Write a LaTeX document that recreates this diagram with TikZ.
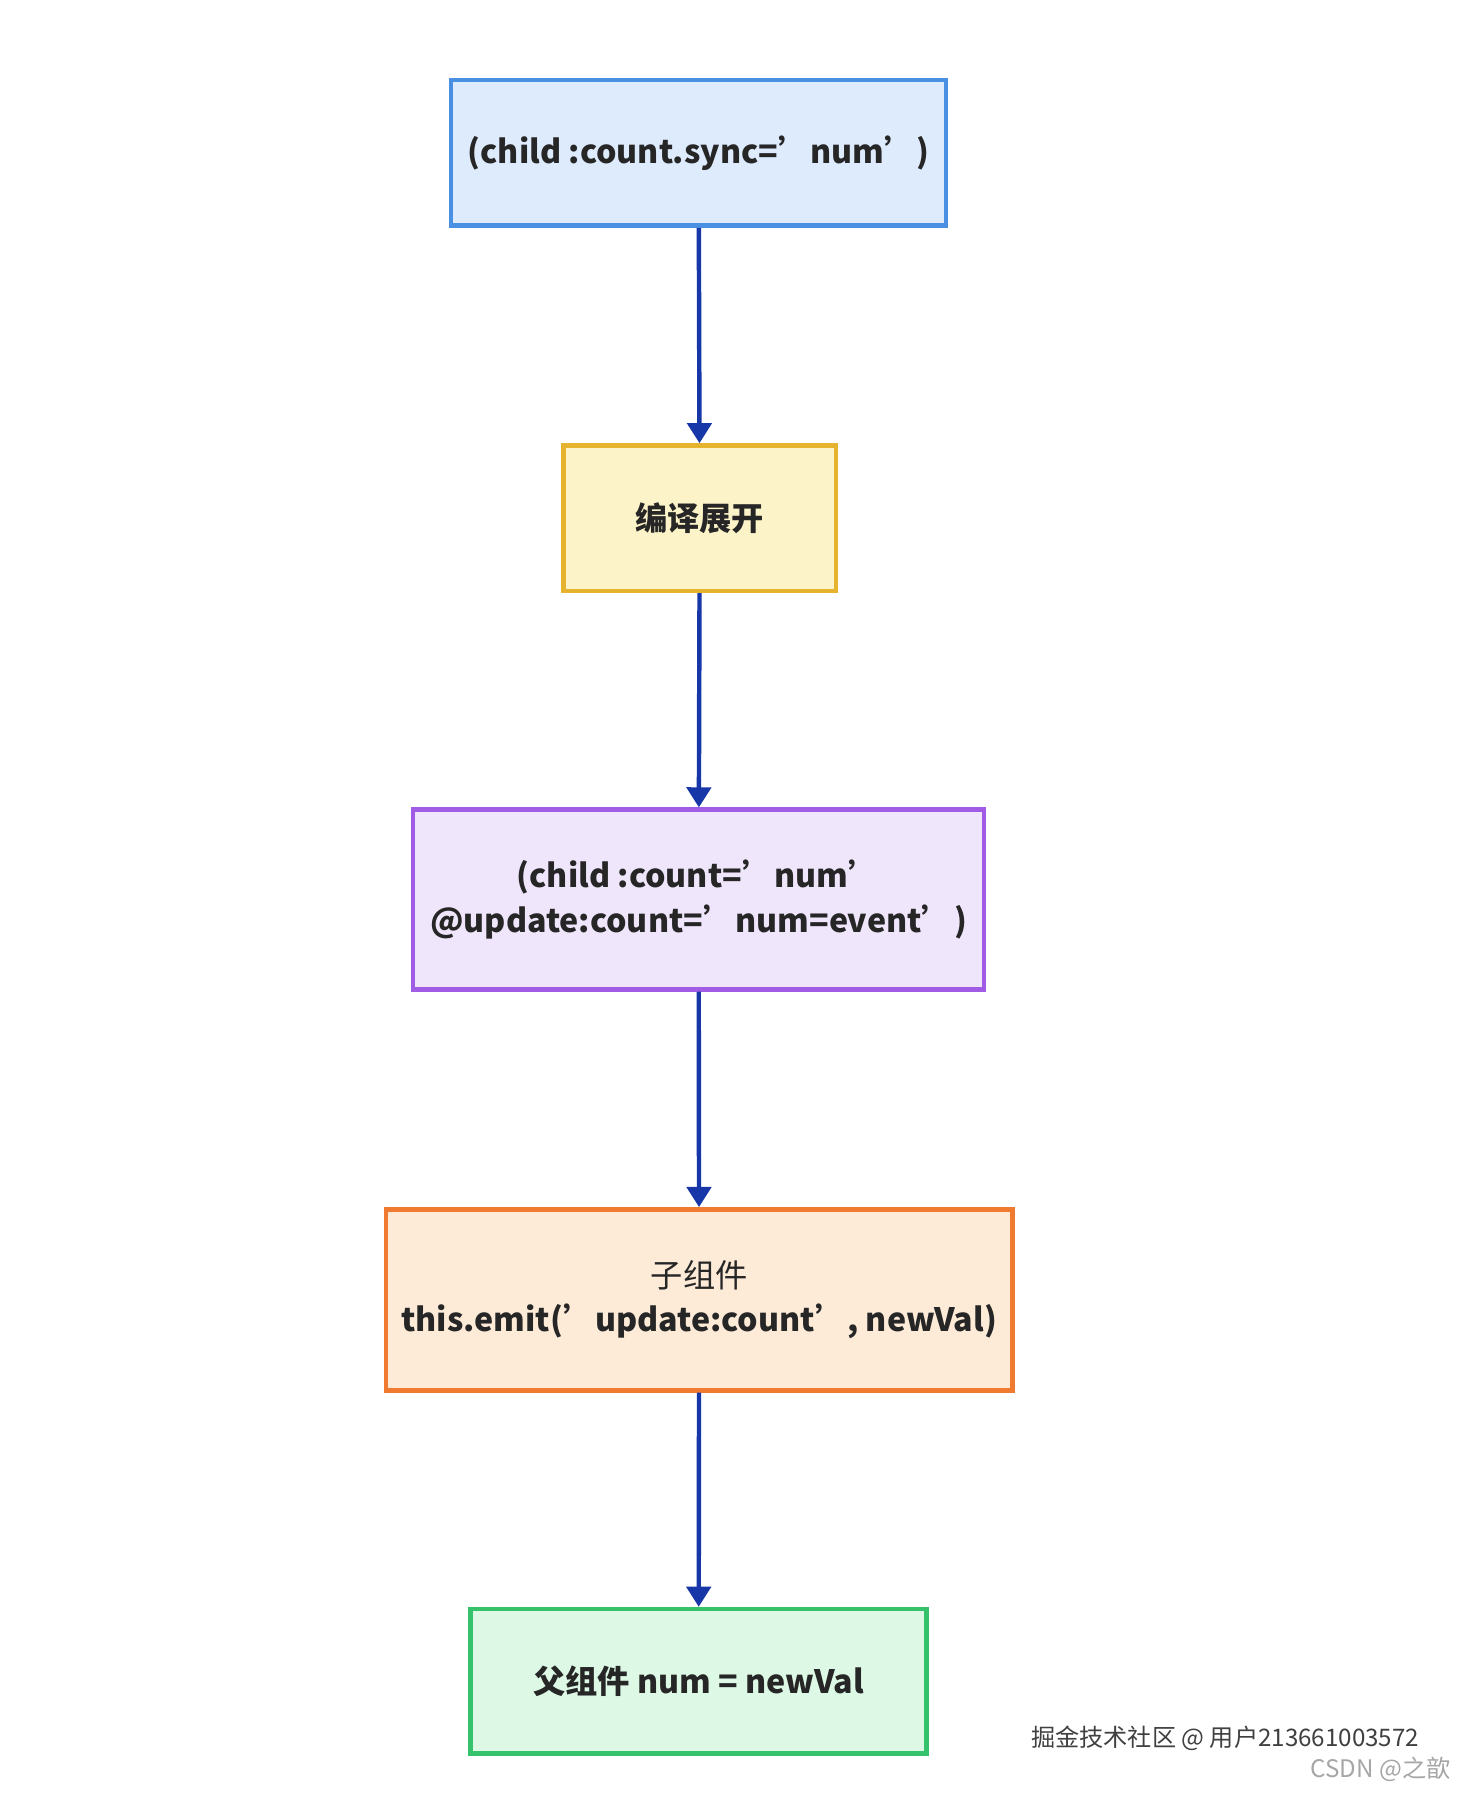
\documentclass[tikz,border=0pt]{standalone}
\usepackage{fontspec}
\setmainfont{Noto Sans CJK SC}
\usepackage{xcolor}
\usetikzlibrary{positioning, arrows.meta}

\definecolor{blueFill}{HTML}{DDEBFD}
\definecolor{blueLine}{HTML}{4A90E2}
\definecolor{yellowFill}{HTML}{FDF3C8}
\definecolor{yellowLine}{HTML}{E6B32E}
\definecolor{purpleFill}{HTML}{F0E6FC}
\definecolor{purpleLine}{HTML}{A15CE6}
\definecolor{orangeFill}{HTML}{FDEBD8}
\definecolor{orangeLine}{HTML}{F07A30}
\definecolor{greenFill}{HTML}{DDF9E6}
\definecolor{greenLine}{HTML}{35C26A}
\definecolor{arrowBlue}{HTML}{1736A8}

\begin{document}
\begin{tikzpicture}[
    x=0.01cm, y=-0.01cm,
    stage/.style={rectangle, draw, line width=1.1pt, align=center, inner sep=0pt,
        font=\fontsize{8}{11}\selectfont\bfseries, text=black!85},
    flow/.style={-{Triangle[length=5pt, width=6pt]}, line width=1.1pt, arrowBlue},
    watermark/.style={font=\fontsize{6}{7}\selectfont, anchor=west}
]
\useasboundingbox (0,0) rectangle (1280,1570);

% Stages
\node[stage, fill=blueFill, draw=blueLine, minimum width=4.32cm, minimum height=1.27cm] (sync) at (610,133.5) {(child :count.sync='num')};
\node[stage, fill=yellowFill, draw=yellowLine, minimum width=2.38cm, minimum height=1.27cm] (compile) at (611,452.5) {编译展开};
\node[stage, fill=purpleFill, draw=purpleLine, minimum width=4.98cm, minimum height=1.57cm] (expand) at (610,785.5) {(child :count='num'\\@update:count='num=event')};
\node[stage, fill=orangeFill, draw=orangeLine, minimum width=5.47cm, minimum height=1.58cm] (emit) at (610.5,1135) {{\mdseries 子组件}\\this.emit('update:count', newVal)};
\node[stage, fill=greenFill, draw=greenLine, minimum width=3.98cm, minimum height=1.26cm] (parent) at (610,1468) {父组件 num = newVal};

% Connectors
\draw[flow] (sync) -- (compile);
\draw[flow] (compile) -- (expand);
\draw[flow] (expand) -- (emit);
\draw[flow] (emit) -- (parent);

% Watermarks
\node[watermark, text=black!75] (juejin) at (888,1518) {掘金技术社区 @ 用户213661003572};
\node[watermark, text=black!35] (csdn) at (1132,1545) {CSDN @之歆};
\end{tikzpicture}
\end{document}
